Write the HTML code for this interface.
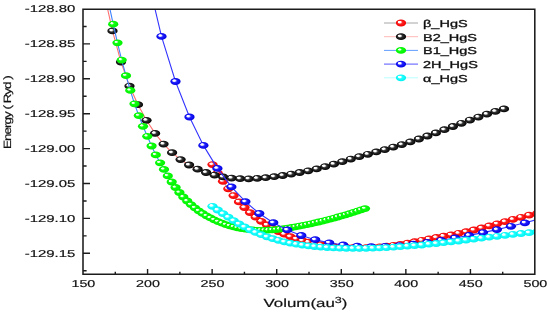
<!DOCTYPE html>
<html><head><meta charset="utf-8"><title>E-V curves HgS</title>
<style>
html,body{margin:0;padding:0;background:#fff;}
body{width:550px;height:312px;overflow:hidden;}
svg{display:block;}
text{font-family:"Liberation Sans",Arial,sans-serif;font-size:10.0px;fill:#111;stroke:#111;stroke-width:0.18px;text-rendering:geometricPrecision;}
</style></head><body>
<svg width="550" height="312" viewBox="0 0 550 312">
<defs><radialGradient id="gR" cx="0.5" cy="0.5" r="0.5" fx="0.31" fy="0.31" gradientUnits="objectBoundingBox"><stop offset="0" stop-color="#ffffff"/><stop offset="0.25" stop-color="#ffffff"/><stop offset="0.50" stop-color="#ff2020"/><stop offset="1" stop-color="#f00000"/></radialGradient><radialGradient id="gK" cx="0.5" cy="0.5" r="0.5" fx="0.31" fy="0.31" gradientUnits="objectBoundingBox"><stop offset="0" stop-color="#ffffff"/><stop offset="0.25" stop-color="#ffffff"/><stop offset="0.50" stop-color="#303030"/><stop offset="1" stop-color="#000000"/></radialGradient><radialGradient id="gG" cx="0.5" cy="0.5" r="0.5" fx="0.31" fy="0.31" gradientUnits="objectBoundingBox"><stop offset="0" stop-color="#f4fff4"/><stop offset="0.20" stop-color="#f4fff4"/><stop offset="0.42" stop-color="#10ff10"/><stop offset="1" stop-color="#00f000"/></radialGradient><radialGradient id="gB" cx="0.5" cy="0.5" r="0.5" fx="0.31" fy="0.31" gradientUnits="objectBoundingBox"><stop offset="0" stop-color="#ffffff"/><stop offset="0.25" stop-color="#ffffff"/><stop offset="0.50" stop-color="#2020ff"/><stop offset="1" stop-color="#0000e0"/></radialGradient><radialGradient id="gC" cx="0.5" cy="0.5" r="0.5" fx="0.31" fy="0.31" gradientUnits="objectBoundingBox"><stop offset="0" stop-color="#ffffff"/><stop offset="0.25" stop-color="#ffffff"/><stop offset="0.50" stop-color="#20ffff"/><stop offset="1" stop-color="#00f0f0"/></radialGradient>
<clipPath id="clip"><rect x="83.0" y="9.2" width="451.8" height="265.1"/></clipPath>
</defs>
<rect width="550" height="312" fill="#fff"/>
<g clip-path="url(#clip)">
<path d="M212.5 164.6 L217.7 173.2 L223.0 181.3 L228.3 188.8 L233.6 195.6 L239.0 201.9 L244.5 207.5 L250.0 212.6 L255.6 217.1 L261.3 221.3 L267.0 225.0 L272.7 228.4 L278.5 231.5 L284.4 234.2 L290.3 236.6 L296.3 238.8 L302.4 240.6 L308.5 242.2 L314.6 243.6 L320.9 244.7 L327.2 245.7 L333.5 246.5 L339.9 247.1 L346.4 247.5 L352.9 247.7 L359.5 247.8 L366.2 247.6 L372.9 247.3 L379.7 246.8 L386.6 246.1 L393.5 245.3 L400.4 244.3 L407.5 243.1 L414.6 241.7 L421.8 240.3 L429.0 238.9 L436.3 237.5 L443.6 236.2 L451.1 234.8 L458.6 233.3 L466.1 231.7 L473.8 230.0 L481.5 228.0 L489.2 225.9 L497.1 223.8 L505.0 221.6 L512.9 219.4 L521.0 217.3 L529.1 215.2 L537.2 213.4" fill="none" stroke="#a0a0a0" stroke-width="1.1"/>
<g fill="url(#gR)">
<ellipse cx="212.5" cy="164.6" rx="5.1" ry="3.4"/>
<ellipse cx="217.7" cy="173.2" rx="5.1" ry="3.4"/>
<ellipse cx="223.0" cy="181.3" rx="5.1" ry="3.4"/>
<ellipse cx="228.3" cy="188.8" rx="5.1" ry="3.4"/>
<ellipse cx="233.6" cy="195.6" rx="5.1" ry="3.4"/>
<ellipse cx="239.0" cy="201.9" rx="5.1" ry="3.4"/>
<ellipse cx="244.5" cy="207.5" rx="5.1" ry="3.4"/>
<ellipse cx="250.0" cy="212.6" rx="5.1" ry="3.4"/>
<ellipse cx="255.6" cy="217.1" rx="5.1" ry="3.4"/>
<ellipse cx="261.3" cy="221.3" rx="5.1" ry="3.4"/>
<ellipse cx="267.0" cy="225.0" rx="5.1" ry="3.4"/>
<ellipse cx="272.7" cy="228.4" rx="5.1" ry="3.4"/>
<ellipse cx="278.5" cy="231.5" rx="5.1" ry="3.4"/>
<ellipse cx="284.4" cy="234.2" rx="5.1" ry="3.4"/>
<ellipse cx="290.3" cy="236.6" rx="5.1" ry="3.4"/>
<ellipse cx="296.3" cy="238.8" rx="5.1" ry="3.4"/>
<ellipse cx="302.4" cy="240.6" rx="5.1" ry="3.4"/>
<ellipse cx="308.5" cy="242.2" rx="5.1" ry="3.4"/>
<ellipse cx="314.6" cy="243.6" rx="5.1" ry="3.4"/>
<ellipse cx="320.9" cy="244.7" rx="5.1" ry="3.4"/>
<ellipse cx="327.2" cy="245.7" rx="5.1" ry="3.4"/>
<ellipse cx="333.5" cy="246.5" rx="5.1" ry="3.4"/>
<ellipse cx="339.9" cy="247.1" rx="5.1" ry="3.4"/>
<ellipse cx="346.4" cy="247.5" rx="5.1" ry="3.4"/>
<ellipse cx="352.9" cy="247.7" rx="5.1" ry="3.4"/>
<ellipse cx="359.5" cy="247.8" rx="5.1" ry="3.4"/>
<ellipse cx="366.2" cy="247.6" rx="5.1" ry="3.4"/>
<ellipse cx="372.9" cy="247.3" rx="5.1" ry="3.4"/>
<ellipse cx="379.7" cy="246.8" rx="5.1" ry="3.4"/>
<ellipse cx="386.6" cy="246.1" rx="5.1" ry="3.4"/>
<ellipse cx="393.5" cy="245.3" rx="5.1" ry="3.4"/>
<ellipse cx="400.4" cy="244.3" rx="5.1" ry="3.4"/>
<ellipse cx="407.5" cy="243.1" rx="5.1" ry="3.4"/>
<ellipse cx="414.6" cy="241.7" rx="5.1" ry="3.4"/>
<ellipse cx="421.8" cy="240.3" rx="5.1" ry="3.4"/>
<ellipse cx="429.0" cy="238.9" rx="5.1" ry="3.4"/>
<ellipse cx="436.3" cy="237.5" rx="5.1" ry="3.4"/>
<ellipse cx="443.6" cy="236.2" rx="5.1" ry="3.4"/>
<ellipse cx="451.1" cy="234.8" rx="5.1" ry="3.4"/>
<ellipse cx="458.6" cy="233.3" rx="5.1" ry="3.4"/>
<ellipse cx="466.1" cy="231.7" rx="5.1" ry="3.4"/>
<ellipse cx="473.8" cy="230.0" rx="5.1" ry="3.4"/>
<ellipse cx="481.5" cy="228.0" rx="5.1" ry="3.4"/>
<ellipse cx="489.2" cy="225.9" rx="5.1" ry="3.4"/>
<ellipse cx="497.1" cy="223.8" rx="5.1" ry="3.4"/>
<ellipse cx="505.0" cy="221.6" rx="5.1" ry="3.4"/>
<ellipse cx="512.9" cy="219.4" rx="5.1" ry="3.4"/>
<ellipse cx="521.0" cy="217.3" rx="5.1" ry="3.4"/>
<ellipse cx="529.1" cy="215.2" rx="5.1" ry="3.4"/>
<ellipse cx="537.2" cy="213.4" rx="5.1" ry="3.4"/>
</g>
<path d="M104.0 -7.1 L112.5 30.9 L121.0 62.1 L129.5 86.1 L138.0 104.7 L146.5 120.3 L155.1 133.4 L163.6 144.1 L172.1 152.7 L180.6 159.6 L189.1 165.0 L197.6 169.2 L206.1 172.5 L214.6 175.1 L223.1 176.9 L231.6 178.1 L240.1 178.7 L248.7 178.8 L257.2 178.4 L265.7 177.7 L274.2 176.7 L282.7 175.5 L291.2 174.1 L299.7 172.5 L308.2 170.8 L316.7 168.9 L325.2 166.6 L333.8 164.2 L342.3 161.7 L350.8 159.1 L359.3 156.6 L367.8 154.3 L376.3 151.9 L384.8 149.6 L393.3 147.1 L401.8 144.6 L410.3 141.9 L418.9 139.0 L427.4 136.0 L435.9 132.9 L444.4 129.7 L452.9 126.5 L461.4 123.3 L469.9 120.1 L478.4 117.1 L486.9 114.2 L495.4 111.4 L504.0 108.9" fill="none" stroke="#ff7070" stroke-width="1.1"/>
<g fill="url(#gK)">
<ellipse cx="112.5" cy="30.9" rx="5.1" ry="3.4"/>
<ellipse cx="121.0" cy="62.1" rx="5.1" ry="3.4"/>
<ellipse cx="129.5" cy="86.1" rx="5.1" ry="3.4"/>
<ellipse cx="138.0" cy="104.7" rx="5.1" ry="3.4"/>
<ellipse cx="146.5" cy="120.3" rx="5.1" ry="3.4"/>
<ellipse cx="155.1" cy="133.4" rx="5.1" ry="3.4"/>
<ellipse cx="163.6" cy="144.1" rx="5.1" ry="3.4"/>
<ellipse cx="172.1" cy="152.7" rx="5.1" ry="3.4"/>
<ellipse cx="180.6" cy="159.6" rx="5.1" ry="3.4"/>
<ellipse cx="189.1" cy="165.0" rx="5.1" ry="3.4"/>
<ellipse cx="197.6" cy="169.2" rx="5.1" ry="3.4"/>
<ellipse cx="206.1" cy="172.5" rx="5.1" ry="3.4"/>
<ellipse cx="214.6" cy="175.1" rx="5.1" ry="3.4"/>
<ellipse cx="223.1" cy="176.9" rx="5.1" ry="3.4"/>
<ellipse cx="231.6" cy="178.1" rx="5.1" ry="3.4"/>
<ellipse cx="240.1" cy="178.7" rx="5.1" ry="3.4"/>
<ellipse cx="248.7" cy="178.8" rx="5.1" ry="3.4"/>
<ellipse cx="257.2" cy="178.4" rx="5.1" ry="3.4"/>
<ellipse cx="265.7" cy="177.7" rx="5.1" ry="3.4"/>
<ellipse cx="274.2" cy="176.7" rx="5.1" ry="3.4"/>
<ellipse cx="282.7" cy="175.5" rx="5.1" ry="3.4"/>
<ellipse cx="291.2" cy="174.1" rx="5.1" ry="3.4"/>
<ellipse cx="299.7" cy="172.5" rx="5.1" ry="3.4"/>
<ellipse cx="308.2" cy="170.8" rx="5.1" ry="3.4"/>
<ellipse cx="316.7" cy="168.9" rx="5.1" ry="3.4"/>
<ellipse cx="325.2" cy="166.6" rx="5.1" ry="3.4"/>
<ellipse cx="333.8" cy="164.2" rx="5.1" ry="3.4"/>
<ellipse cx="342.3" cy="161.7" rx="5.1" ry="3.4"/>
<ellipse cx="350.8" cy="159.1" rx="5.1" ry="3.4"/>
<ellipse cx="359.3" cy="156.6" rx="5.1" ry="3.4"/>
<ellipse cx="367.8" cy="154.3" rx="5.1" ry="3.4"/>
<ellipse cx="376.3" cy="151.9" rx="5.1" ry="3.4"/>
<ellipse cx="384.8" cy="149.6" rx="5.1" ry="3.4"/>
<ellipse cx="393.3" cy="147.1" rx="5.1" ry="3.4"/>
<ellipse cx="401.8" cy="144.6" rx="5.1" ry="3.4"/>
<ellipse cx="410.3" cy="141.9" rx="5.1" ry="3.4"/>
<ellipse cx="418.9" cy="139.0" rx="5.1" ry="3.4"/>
<ellipse cx="427.4" cy="136.0" rx="5.1" ry="3.4"/>
<ellipse cx="435.9" cy="132.9" rx="5.1" ry="3.4"/>
<ellipse cx="444.4" cy="129.7" rx="5.1" ry="3.4"/>
<ellipse cx="452.9" cy="126.5" rx="5.1" ry="3.4"/>
<ellipse cx="461.4" cy="123.3" rx="5.1" ry="3.4"/>
<ellipse cx="469.9" cy="120.1" rx="5.1" ry="3.4"/>
<ellipse cx="478.4" cy="117.1" rx="5.1" ry="3.4"/>
<ellipse cx="486.9" cy="114.2" rx="5.1" ry="3.4"/>
<ellipse cx="495.4" cy="111.4" rx="5.1" ry="3.4"/>
<ellipse cx="504.0" cy="108.9" rx="5.1" ry="3.4"/>
</g>
<path d="M108.9 4.2 L113.2 24.2 L117.5 42.8 L121.7 60.1 L126.0 75.7 L130.3 90.4 L134.5 103.8 L138.8 115.6 L143.0 126.3 L147.3 136.3 L151.6 146.0 L155.8 154.9 L160.1 162.8 L164.0 169.4 L167.8 175.9 L171.7 182.0 L175.6 187.5 L179.4 192.5 L183.3 197.0 L187.2 201.0 L191.0 204.6 L194.9 207.8 L198.8 210.8 L202.6 213.4 L206.5 215.8 L210.4 217.9 L214.2 219.8 L218.1 221.6 L222.0 223.2 L225.8 224.6 L229.7 225.8 L233.6 226.9 L237.4 227.8 L241.3 228.6 L245.2 229.2 L249.0 229.7 L252.9 230.0 L256.8 230.3 L260.6 230.3 L264.5 230.3 L268.3 230.2 L272.2 229.9 L276.1 229.6 L279.9 229.2 L283.8 228.7 L287.7 228.1 L291.5 227.5 L295.4 226.8 L299.3 226.1 L303.1 225.4 L307.0 224.6 L310.9 223.8 L314.7 222.9 L318.6 222.0 L322.5 221.1 L326.3 220.1 L330.2 219.1 L334.1 218.1 L337.9 217.0 L341.8 215.9 L345.7 214.8 L349.5 213.6 L353.4 212.4 L357.3 211.2 L361.1 209.9 L365.0 208.6" fill="none" stroke="#3c82ff" stroke-width="1.1"/>
<g fill="url(#gG)">
<ellipse cx="108.9" cy="4.2" rx="5.1" ry="3.4"/>
<ellipse cx="113.2" cy="24.2" rx="5.1" ry="3.4"/>
<ellipse cx="117.5" cy="42.8" rx="5.1" ry="3.4"/>
<ellipse cx="121.7" cy="60.1" rx="5.1" ry="3.4"/>
<ellipse cx="126.0" cy="75.7" rx="5.1" ry="3.4"/>
<ellipse cx="130.3" cy="90.4" rx="5.1" ry="3.4"/>
<ellipse cx="134.5" cy="103.8" rx="5.1" ry="3.4"/>
<ellipse cx="138.8" cy="115.6" rx="5.1" ry="3.4"/>
<ellipse cx="143.0" cy="126.3" rx="5.1" ry="3.4"/>
<ellipse cx="147.3" cy="136.3" rx="5.1" ry="3.4"/>
<ellipse cx="151.6" cy="146.0" rx="5.1" ry="3.4"/>
<ellipse cx="155.8" cy="154.9" rx="5.1" ry="3.4"/>
<ellipse cx="160.1" cy="162.8" rx="5.1" ry="3.4"/>
<ellipse cx="164.0" cy="169.4" rx="5.1" ry="3.4"/>
<ellipse cx="167.8" cy="175.9" rx="5.1" ry="3.4"/>
<ellipse cx="171.7" cy="182.0" rx="5.1" ry="3.4"/>
<ellipse cx="175.6" cy="187.5" rx="5.1" ry="3.4"/>
<ellipse cx="179.4" cy="192.5" rx="5.1" ry="3.4"/>
<ellipse cx="183.3" cy="197.0" rx="5.1" ry="3.4"/>
<ellipse cx="187.2" cy="201.0" rx="5.1" ry="3.4"/>
<ellipse cx="191.0" cy="204.6" rx="5.1" ry="3.4"/>
<ellipse cx="194.9" cy="207.8" rx="5.1" ry="3.4"/>
<ellipse cx="198.8" cy="210.8" rx="5.1" ry="3.4"/>
<ellipse cx="202.6" cy="213.4" rx="5.1" ry="3.4"/>
<ellipse cx="206.5" cy="215.8" rx="5.1" ry="3.4"/>
<ellipse cx="210.4" cy="217.9" rx="5.1" ry="3.4"/>
<ellipse cx="214.2" cy="219.8" rx="5.1" ry="3.4"/>
<ellipse cx="218.1" cy="221.6" rx="5.1" ry="3.4"/>
<ellipse cx="222.0" cy="223.2" rx="5.1" ry="3.4"/>
<ellipse cx="225.8" cy="224.6" rx="5.1" ry="3.4"/>
<ellipse cx="229.7" cy="225.8" rx="5.1" ry="3.4"/>
<ellipse cx="233.6" cy="226.9" rx="5.1" ry="3.4"/>
<ellipse cx="237.4" cy="227.8" rx="5.1" ry="3.4"/>
<ellipse cx="241.3" cy="228.6" rx="5.1" ry="3.4"/>
<ellipse cx="245.2" cy="229.2" rx="5.1" ry="3.4"/>
<ellipse cx="249.0" cy="229.7" rx="5.1" ry="3.4"/>
<ellipse cx="252.9" cy="230.0" rx="5.1" ry="3.4"/>
<ellipse cx="256.8" cy="230.3" rx="5.1" ry="3.4"/>
<ellipse cx="260.6" cy="230.3" rx="5.1" ry="3.4"/>
<ellipse cx="264.5" cy="230.3" rx="5.1" ry="3.4"/>
<ellipse cx="268.3" cy="230.2" rx="5.1" ry="3.4"/>
<ellipse cx="272.2" cy="229.9" rx="5.1" ry="3.4"/>
<ellipse cx="276.1" cy="229.6" rx="5.1" ry="3.4"/>
<ellipse cx="279.9" cy="229.2" rx="5.1" ry="3.4"/>
<ellipse cx="283.8" cy="228.7" rx="5.1" ry="3.4"/>
<ellipse cx="287.7" cy="228.1" rx="5.1" ry="3.4"/>
<ellipse cx="291.5" cy="227.5" rx="5.1" ry="3.4"/>
<ellipse cx="295.4" cy="226.8" rx="5.1" ry="3.4"/>
<ellipse cx="299.3" cy="226.1" rx="5.1" ry="3.4"/>
<ellipse cx="303.1" cy="225.4" rx="5.1" ry="3.4"/>
<ellipse cx="307.0" cy="224.6" rx="5.1" ry="3.4"/>
<ellipse cx="310.9" cy="223.8" rx="5.1" ry="3.4"/>
<ellipse cx="314.7" cy="222.9" rx="5.1" ry="3.4"/>
<ellipse cx="318.6" cy="222.0" rx="5.1" ry="3.4"/>
<ellipse cx="322.5" cy="221.1" rx="5.1" ry="3.4"/>
<ellipse cx="326.3" cy="220.1" rx="5.1" ry="3.4"/>
<ellipse cx="330.2" cy="219.1" rx="5.1" ry="3.4"/>
<ellipse cx="334.1" cy="218.1" rx="5.1" ry="3.4"/>
<ellipse cx="337.9" cy="217.0" rx="5.1" ry="3.4"/>
<ellipse cx="341.8" cy="215.9" rx="5.1" ry="3.4"/>
<ellipse cx="345.7" cy="214.8" rx="5.1" ry="3.4"/>
<ellipse cx="349.5" cy="213.6" rx="5.1" ry="3.4"/>
<ellipse cx="353.4" cy="212.4" rx="5.1" ry="3.4"/>
<ellipse cx="357.3" cy="211.2" rx="5.1" ry="3.4"/>
<ellipse cx="361.1" cy="209.9" rx="5.1" ry="3.4"/>
<ellipse cx="365.0" cy="208.6" rx="5.1" ry="3.4"/>
</g>
<path d="M147.5 -22.7 L161.5 36.4 L175.5 81.5 L189.5 117.0 L203.4 145.4 L217.4 168.4 L231.4 186.9 L245.4 201.7 L259.3 213.5 L273.3 222.7 L287.3 229.9 L301.3 235.5 L315.2 239.7 L329.2 242.8 L343.2 245.0 L357.2 246.2 L371.2 246.7 L385.1 246.4 L399.1 245.6 L413.1 244.2 L427.1 242.4 L441.0 240.3 L455.0 238.0 L469.0 235.4 L483.0 232.6 L496.9 229.6 L510.9 226.3 L524.9 222.8 L538.9 219.1" fill="none" stroke="#3434ff" stroke-width="1.1"/>
<g fill="url(#gB)">
<ellipse cx="161.5" cy="36.4" rx="5.1" ry="3.4"/>
<ellipse cx="175.5" cy="81.5" rx="5.1" ry="3.4"/>
<ellipse cx="189.5" cy="117.0" rx="5.1" ry="3.4"/>
<ellipse cx="203.4" cy="145.4" rx="5.1" ry="3.4"/>
<ellipse cx="217.4" cy="168.4" rx="5.1" ry="3.4"/>
<ellipse cx="231.4" cy="186.9" rx="5.1" ry="3.4"/>
<ellipse cx="245.4" cy="201.7" rx="5.1" ry="3.4"/>
<ellipse cx="259.3" cy="213.5" rx="5.1" ry="3.4"/>
<ellipse cx="273.3" cy="222.7" rx="5.1" ry="3.4"/>
<ellipse cx="287.3" cy="229.9" rx="5.1" ry="3.4"/>
<ellipse cx="301.3" cy="235.5" rx="5.1" ry="3.4"/>
<ellipse cx="315.2" cy="239.7" rx="5.1" ry="3.4"/>
<ellipse cx="329.2" cy="242.8" rx="5.1" ry="3.4"/>
<ellipse cx="343.2" cy="245.0" rx="5.1" ry="3.4"/>
<ellipse cx="357.2" cy="246.2" rx="5.1" ry="3.4"/>
<ellipse cx="371.2" cy="246.7" rx="5.1" ry="3.4"/>
<ellipse cx="385.1" cy="246.4" rx="5.1" ry="3.4"/>
<ellipse cx="399.1" cy="245.6" rx="5.1" ry="3.4"/>
<ellipse cx="413.1" cy="244.2" rx="5.1" ry="3.4"/>
<ellipse cx="427.1" cy="242.4" rx="5.1" ry="3.4"/>
<ellipse cx="441.0" cy="240.3" rx="5.1" ry="3.4"/>
<ellipse cx="455.0" cy="238.0" rx="5.1" ry="3.4"/>
<ellipse cx="469.0" cy="235.4" rx="5.1" ry="3.4"/>
<ellipse cx="483.0" cy="232.6" rx="5.1" ry="3.4"/>
<ellipse cx="496.9" cy="229.6" rx="5.1" ry="3.4"/>
<ellipse cx="510.9" cy="226.3" rx="5.1" ry="3.4"/>
<ellipse cx="524.9" cy="222.8" rx="5.1" ry="3.4"/>
<ellipse cx="538.9" cy="219.1" rx="5.1" ry="3.4"/>
</g>
<path d="M212.5 206.3 L217.7 210.0 L223.0 213.6 L228.3 217.1 L233.6 220.6 L239.0 223.9 L244.5 226.9 L250.0 229.8 L255.6 232.4 L261.3 234.7 L267.0 236.8 L272.7 238.7 L278.5 240.3 L284.4 241.8 L290.3 243.1 L296.3 244.2 L302.4 245.1 L308.5 245.9 L314.6 246.5 L320.9 247.1 L327.2 247.5 L333.5 247.9 L339.9 248.2 L346.4 248.3 L352.9 248.4 L359.5 248.4 L366.2 248.3 L372.9 248.2 L379.7 247.9 L386.6 247.6 L393.5 247.2 L400.4 246.7 L407.5 246.2 L414.6 245.6 L421.8 245.0 L429.0 244.2 L436.3 243.5 L443.6 242.7 L451.1 241.8 L458.6 241.0 L466.1 240.0 L473.8 239.1 L481.5 238.2 L489.2 237.2 L497.1 236.3 L505.0 235.4 L512.9 234.4 L521.0 233.5 L529.1 232.7 L537.2 231.9" fill="none" stroke="#a0ffff" stroke-width="1.1"/>
<g fill="url(#gC)">
<ellipse cx="212.5" cy="206.3" rx="5.1" ry="3.4"/>
<ellipse cx="217.7" cy="210.0" rx="5.1" ry="3.4"/>
<ellipse cx="223.0" cy="213.6" rx="5.1" ry="3.4"/>
<ellipse cx="228.3" cy="217.1" rx="5.1" ry="3.4"/>
<ellipse cx="233.6" cy="220.6" rx="5.1" ry="3.4"/>
<ellipse cx="239.0" cy="223.9" rx="5.1" ry="3.4"/>
<ellipse cx="244.5" cy="226.9" rx="5.1" ry="3.4"/>
<ellipse cx="250.0" cy="229.8" rx="5.1" ry="3.4"/>
<ellipse cx="255.6" cy="232.4" rx="5.1" ry="3.4"/>
<ellipse cx="261.3" cy="234.7" rx="5.1" ry="3.4"/>
<ellipse cx="267.0" cy="236.8" rx="5.1" ry="3.4"/>
<ellipse cx="272.7" cy="238.7" rx="5.1" ry="3.4"/>
<ellipse cx="278.5" cy="240.3" rx="5.1" ry="3.4"/>
<ellipse cx="284.4" cy="241.8" rx="5.1" ry="3.4"/>
<ellipse cx="290.3" cy="243.1" rx="5.1" ry="3.4"/>
<ellipse cx="296.3" cy="244.2" rx="5.1" ry="3.4"/>
<ellipse cx="302.4" cy="245.1" rx="5.1" ry="3.4"/>
<ellipse cx="308.5" cy="245.9" rx="5.1" ry="3.4"/>
<ellipse cx="314.6" cy="246.5" rx="5.1" ry="3.4"/>
<ellipse cx="320.9" cy="247.1" rx="5.1" ry="3.4"/>
<ellipse cx="327.2" cy="247.5" rx="5.1" ry="3.4"/>
<ellipse cx="333.5" cy="247.9" rx="5.1" ry="3.4"/>
<ellipse cx="339.9" cy="248.2" rx="5.1" ry="3.4"/>
<ellipse cx="346.4" cy="248.3" rx="5.1" ry="3.4"/>
<ellipse cx="352.9" cy="248.4" rx="5.1" ry="3.4"/>
<ellipse cx="359.5" cy="248.4" rx="5.1" ry="3.4"/>
<ellipse cx="366.2" cy="248.3" rx="5.1" ry="3.4"/>
<ellipse cx="372.9" cy="248.2" rx="5.1" ry="3.4"/>
<ellipse cx="379.7" cy="247.9" rx="5.1" ry="3.4"/>
<ellipse cx="386.6" cy="247.6" rx="5.1" ry="3.4"/>
<ellipse cx="393.5" cy="247.2" rx="5.1" ry="3.4"/>
<ellipse cx="400.4" cy="246.7" rx="5.1" ry="3.4"/>
<ellipse cx="407.5" cy="246.2" rx="5.1" ry="3.4"/>
<ellipse cx="414.6" cy="245.6" rx="5.1" ry="3.4"/>
<ellipse cx="421.8" cy="245.0" rx="5.1" ry="3.4"/>
<ellipse cx="429.0" cy="244.2" rx="5.1" ry="3.4"/>
<ellipse cx="436.3" cy="243.5" rx="5.1" ry="3.4"/>
<ellipse cx="443.6" cy="242.7" rx="5.1" ry="3.4"/>
<ellipse cx="451.1" cy="241.8" rx="5.1" ry="3.4"/>
<ellipse cx="458.6" cy="241.0" rx="5.1" ry="3.4"/>
<ellipse cx="466.1" cy="240.0" rx="5.1" ry="3.4"/>
<ellipse cx="473.8" cy="239.1" rx="5.1" ry="3.4"/>
<ellipse cx="481.5" cy="238.2" rx="5.1" ry="3.4"/>
<ellipse cx="489.2" cy="237.2" rx="5.1" ry="3.4"/>
<ellipse cx="497.1" cy="236.3" rx="5.1" ry="3.4"/>
<ellipse cx="505.0" cy="235.4" rx="5.1" ry="3.4"/>
<ellipse cx="512.9" cy="234.4" rx="5.1" ry="3.4"/>
<ellipse cx="521.0" cy="233.5" rx="5.1" ry="3.4"/>
<ellipse cx="529.1" cy="232.7" rx="5.1" ry="3.4"/>
<ellipse cx="537.2" cy="231.9" rx="5.1" ry="3.4"/>
</g>
</g>
<path d="M83.00 9.15H534.80V274.20H83.00Z" fill="none" stroke="#1c1c1c" stroke-width="1.55" stroke-linejoin="miter"/>
<path d="M83.0 26.45h3.6 M83.0 43.90h7 M83.0 61.35h3.6 M83.0 78.80h7 M83.0 96.25h3.6 M83.0 113.70h7 M83.0 131.15h3.6 M83.0 148.60h7 M83.0 166.05h3.6 M83.0 183.50h7 M83.0 200.95h3.6 M83.0 218.40h7 M83.0 235.85h3.6 M83.0 253.30h7 M83.0 270.75h3.6 M115.29 274.2v-2.5 M147.57 274.2v-5.2 M179.86 274.2v-2.5 M212.14 274.2v-5.2 M244.43 274.2v-2.5 M276.71 274.2v-5.2 M309.00 274.2v-2.5 M341.29 274.2v-5.2 M373.57 274.2v-2.5 M405.86 274.2v-5.2 M438.14 274.2v-2.5 M470.43 274.2v-5.2 M502.71 274.2v-2.5" stroke="#1c1c1c" stroke-width="1.4" fill="none"/>
<text transform="translate(75.3 12.4) scale(1.49 1)" text-anchor="end">-128.80</text>
<text transform="translate(75.3 47.4) scale(1.49 1)" text-anchor="end">-128.85</text>
<text transform="translate(75.3 82.2) scale(1.49 1)" text-anchor="end">-128.90</text>
<text transform="translate(75.3 117.1) scale(1.49 1)" text-anchor="end">-128.95</text>
<text transform="translate(75.3 152.0) scale(1.49 1)" text-anchor="end">-129.00</text>
<text transform="translate(75.3 186.9) scale(1.49 1)" text-anchor="end">-129.05</text>
<text transform="translate(75.3 221.8) scale(1.49 1)" text-anchor="end">-129.10</text>
<text transform="translate(75.3 256.8) scale(1.49 1)" text-anchor="end">-129.15</text>
<text transform="translate(83.4 287.3) scale(1.43 1)" text-anchor="middle">150</text>
<text transform="translate(148.0 287.3) scale(1.43 1)" text-anchor="middle">200</text>
<text transform="translate(212.5 287.3) scale(1.43 1)" text-anchor="middle">250</text>
<text transform="translate(277.1 287.3) scale(1.43 1)" text-anchor="middle">300</text>
<text transform="translate(341.7 287.3) scale(1.43 1)" text-anchor="middle">350</text>
<text transform="translate(406.3 287.3) scale(1.43 1)" text-anchor="middle">400</text>
<text transform="translate(470.8 287.3) scale(1.43 1)" text-anchor="middle">450</text>
<text transform="translate(535.4 287.3) scale(1.43 1)" text-anchor="middle">500</text>
<text transform="translate(11.0 112.6) rotate(-90) scale(1.27 1.0)" text-anchor="middle" style="font-size:10.6px;letter-spacing:-0.78px">Energy ( Ryd )</text>
<text transform="translate(305.5 306.8) scale(1.43 1)" text-anchor="middle" style="font-size:11.8px">Volum(au<tspan dy="-3.9" style="font-size:8.8px">3</tspan><tspan dy="3.9">)</tspan></text>
<path d="M384 23.0H418" stroke="#9c9c9c" stroke-width="0.9"/>
<ellipse cx="401" cy="23.0" rx="5.1" ry="3.4" fill="url(#gR)"/>
<text transform="translate(423 27.0) scale(1.45 1)" style="stroke-width:0.32px">β_HgS</text>
<path d="M384 36.7H418" stroke="#ffb0b0" stroke-width="0.9"/>
<ellipse cx="401" cy="36.7" rx="5.1" ry="3.4" fill="url(#gK)"/>
<text transform="translate(423 40.7) scale(1.45 1)" style="stroke-width:0.32px">B2_HgS</text>
<path d="M384 50.4H418" stroke="#4f94ff" stroke-width="0.9"/>
<ellipse cx="401" cy="50.4" rx="5.1" ry="3.4" fill="url(#gG)"/>
<text transform="translate(423 54.4) scale(1.45 1)" style="stroke-width:0.32px">B1_HgS</text>
<path d="M384 64.1H418" stroke="#4040ff" stroke-width="0.9"/>
<ellipse cx="401" cy="64.1" rx="5.1" ry="3.4" fill="url(#gB)"/>
<text transform="translate(423 68.1) scale(1.45 1)" style="stroke-width:0.32px">2H_HgS</text>
<path d="M384 77.8H418" stroke="#b0ffff" stroke-width="0.9"/>
<ellipse cx="401" cy="77.8" rx="5.1" ry="3.4" fill="url(#gC)"/>
<text transform="translate(423 81.8) scale(1.45 1)" style="stroke-width:0.32px">α_HgS</text>
</svg>
</body></html>
